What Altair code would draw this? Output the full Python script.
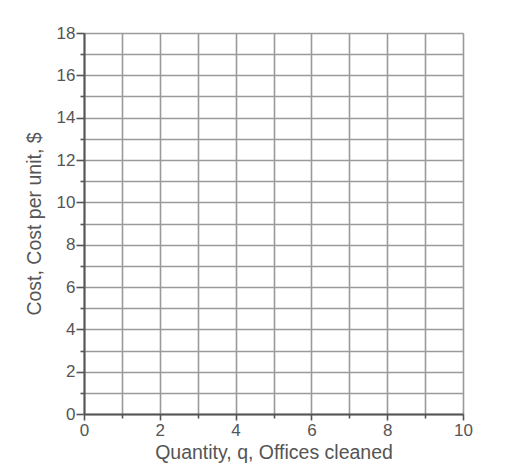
import altair as alt
import pandas as pd

# Axis ranges and tick positions
x_ticks = list(range(0, 11))        # 0..10, labels on even values
y_ticks = list(range(0, 19))        # 0..18, labels on even values
x_domain = [0, 10]
y_domain = [0, 18]

x_title = "Quantity, q, Offices cleaned"
y_title = "Cost, Cost per unit, $"

df = pd.DataFrame({"q": x_domain, "cost": y_domain})

font = "Liberation Sans"
even = "datum.value % 2 === 0"

common = dict(
    grid=True,
    gridColor="#9a9a9a",
    gridWidth=1.6,
    gridOpacity=1,
    domainColor="#555555",
    domainWidth=2,
    tickColor="#555555",
    tickWidth=1.6,
    labelFont=font,
    labelFontSize=17,
    labelColor="#555555",
    labelFlush=False,
    labelOverlap=False,
    titleFont=font,
    titleFontSize=19.5,
    titleFontWeight="normal",
    titleColor="#555555",
    labelExpr=f"{even} ? datum.label : ''",
)

x_axis = alt.Axis(
    values=x_ticks,
    tickSize={"condition": {"test": even, "value": 6}, "value": 4},
    labelPadding=2,
    titlePadding=5,
    **common,
)
y_axis = alt.Axis(
    values=y_ticks,
    tickSize={"condition": {"test": even, "value": 8}, "value": 4},
    labelPadding=1,
    titlePadding=12,
    **common,
)

chart = (
    alt.Chart(df)
    .mark_point(opacity=0)
    .encode(
        x=alt.X("q:Q", scale=alt.Scale(domain=x_domain, nice=False), axis=x_axis, title=x_title),
        y=alt.Y("cost:Q", scale=alt.Scale(domain=y_domain, nice=False), axis=y_axis, title=y_title),
    )
    .properties(
        width=379,
        height=381,
        autosize=alt.AutoSizeParams(type="none"),
        padding={"left": 76, "top": 25, "right": 40, "bottom": 50},
    )
    .configure_view(stroke=None)
    .configure(background="white")
)

chart.save("out.html", embed_options={"renderer": "svg", "actions": False})
